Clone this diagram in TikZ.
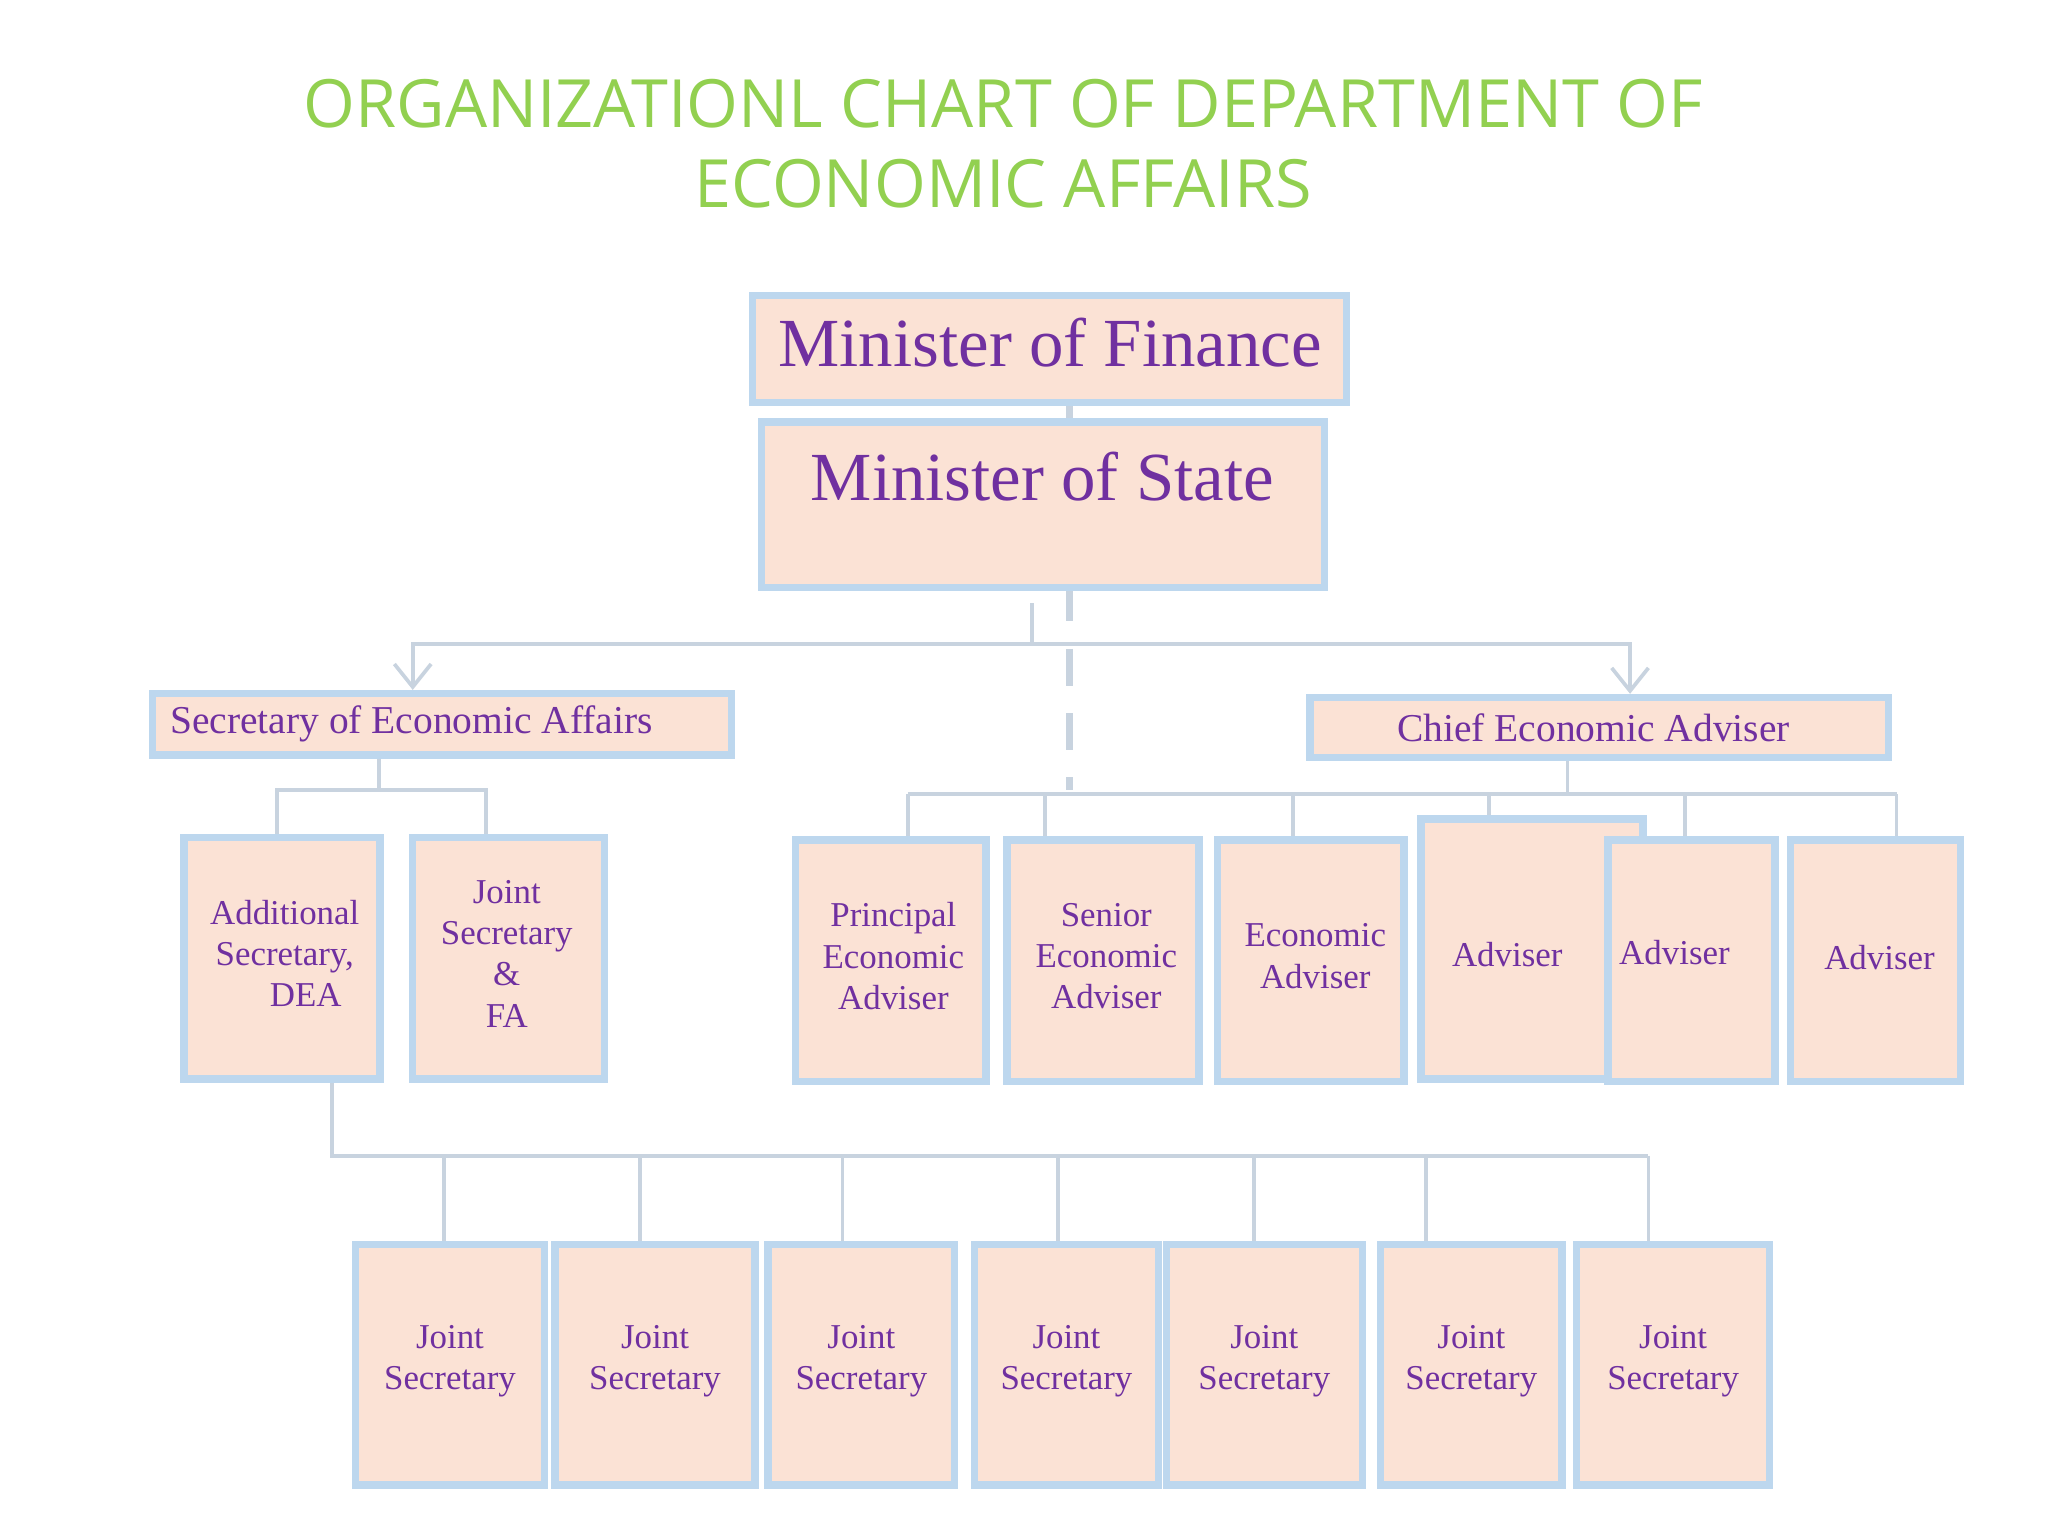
\documentclass[tikz,border=0pt]{standalone}
\usepackage{fontspec}
\setmainfont{Liberation Serif}
\newfontfamily\titlefont{Open Sans}
\usetikzlibrary{arrows.meta}
\definecolor{boxfill}{HTML}{FBE2D5}
\definecolor{boxline}{HTML}{BDD7EE}
\definecolor{txt}{HTML}{7030A0}
\definecolor{ttl}{HTML}{92D050}
\definecolor{conn}{HTML}{C8D3DF}
\begin{document}
\begin{tikzpicture}[x=0.1mm,y=-0.1mm,
  box/.style={draw=boxline,line width=1.6pt,fill=boxfill,text=txt,align=center,inner sep=0pt},
  con/.style={draw=conn,line width=0.8pt},
  arr/.style={con,-{Straight Barb[length=5pt,width=8pt]}},
  lbl/.style={text=txt,align=center,font=\fontsize{7.6}{9}\selectfont}]
\useasboundingbox (0,0) rectangle (1568,1176);
\fill[white] (0,0) rectangle (1568,1176);
\node[text=ttl,align=center,font=\titlefont\fontsize{14.5}{17.5}\selectfont] (title) at (768,110)
  {ORGANIZATIONL CHART OF DEPARTMENT OF\\ECONOMIC AFFAIRS};
\coordinate (dashstart) at (819,300);
\coordinate (dashend) at (819,605);
\draw[con,line width=1.5pt,dash pattern=on 8pt off 6pt] (dashstart) -- (dashend);
\newcommand{\bx}[6]{\node[#1,minimum width={(#4-#2)*0.1mm},minimum height={(#5-#3)*0.1mm}] (#6) at ({(#2+#4)/2},{(#3+#5)/2}) {};}
\bx{box}{576}{226}{1031}{308}{mof}
\node[text=txt,font=\fontsize{15}{17}\selectfont] at (804,262) {Minister of Finance};
\bx{box}{583}{323}{1014}{450}{mos}
\node[text=txt,font=\fontsize{15}{17}\selectfont] at (798,365) {Minister of State};
\bx{box}{117}{531}{560}{578}{sec}
\node[lbl,font=\fontsize{8.6}{10}\selectfont] at (315,554) {Secretary of Economic Affairs};
\bx{box}{1003}{534}{1446}{580}{cea}
\node[lbl,font=\fontsize{8.6}{10}\selectfont] at (1220,557) {Chief Economic Adviser};
\bx{box}{141}{641}{291}{826}{add}
\bx{box}{316}{641}{463}{826}{jsfa}
\bx{box}{609}{643}{755}{828}{pea}
\bx{box}{771}{643}{918}{828}{sea}
\bx{box}{932}{643}{1075}{828}{ea}
\bx{box}{1088}{627}{1258}{826}{ad1}
\bx{box}{1231}{643}{1359}{828}{ad2}
\bx{box}{1371}{643}{1501}{828}{ad3}
\node[lbl] at (218,730) {Additional\\Secretary,\\\hspace*{1.2em}DEA};
\node[lbl] at (388,730) {Joint\\Secretary\\\&\\FA};
\node[lbl] at (684,732) {Principal\\Economic\\Adviser};
\node[lbl] at (847,732) {Senior\\Economic\\Adviser};
\node[lbl] at (1007,732) {Economic\\Adviser};
\node[lbl] at (1154,731) {Adviser};
\node[lbl] at (1282,729) {Adviser};
\node[lbl] at (1439,733) {Adviser};
\foreach \a/\b [count=\i] in {272/417,425/578,588/731,746/887,893/1043,1057/1196,1207/1355}{
  \node[box,minimum width={(\b-\a)*0.1mm},minimum height=18.4mm] (js\i) at ({(\a+\b)/2},1045) {};
  \node[lbl] at ({(\a+\b)/2},1042) {Joint\\Secretary};
}
\coordinate (top) at (790,462);
\draw[con] (top) -- (790,493);
\draw[arr] (790,493) -| (sec.north -| 316,0);
\draw[arr] (790,493) -| (cea.north -| 1248,0);
\draw[con] (sec.south -| 290,0) -- (290,605) -- (212,605) -- (add.north -| 212,0);
\draw[con] (290,605) -- (372,605) -- (jsfa.north -| 372,0);
\draw[con] (cea.south -| 1200,0) -- (1200,608);
\draw[con] (695,608) -- (1452,608);
\draw[con] (695,608) -- (pea.north -| 695,0);
\draw[con] (800,608) -- (sea.north -| 800,0);
\draw[con] (990,608) -- (ea.north -| 990,0);
\draw[con] (1140,608) -- (ad1.north -| 1140,0);
\draw[con] (1290,608) -- (ad2.north -| 1290,0);
\draw[con] (1452,608) -- (ad3.north -| 1452,0);
\draw[con] (add.south -| 254,0) -- (254,885) -- (1262,885);
\foreach \x/\i in {340/1,490/2,645/3,810/4,960/5,1092/6,1262/7}
  \draw[con] (\x,885) -- (js\i.north -| \x,0);
\end{tikzpicture}
\end{document}
